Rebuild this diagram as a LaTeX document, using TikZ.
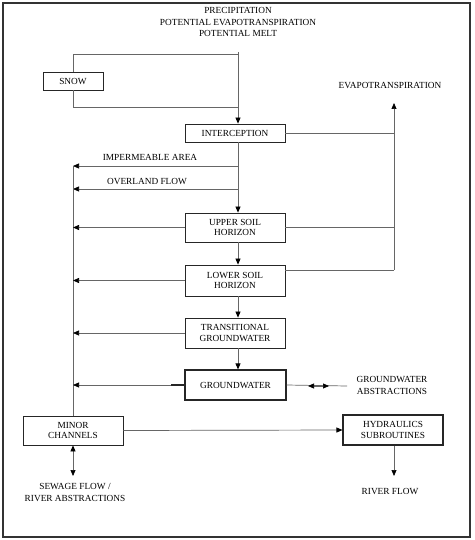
\documentclass[tikz,border=0pt]{standalone}
\usepackage{fontspec}
\setmainfont{Liberation Serif}
\usetikzlibrary{arrows.meta}
\begin{document}
\begin{tikzpicture}[x=1pt,y=-1pt,
  box/.style={draw=black!85,line width=0.8pt,minimum width=100pt,inner sep=0pt,align=center,font=\fontsize{9.3}{10.5}\selectfont},
  lbl/.style={align=center,inner sep=0pt,font=\fontsize{9.3}{11.5}\selectfont},
  conn/.style={draw=black!60,line width=0.7pt},
  tip/.style={Triangle[length=6pt,width=5pt,fill=black,color=black]},
  arr/.style={conn,-{Triangle[length=6pt,width=5pt,fill=black,color=black]}},
  darr/.style={conn,{Triangle[length=6pt,width=5pt,fill=black,color=black]}-{Triangle[length=6pt,width=5pt,fill=black,color=black]}}]
\useasboundingbox (0,0) rectangle (474,540);
\draw[line width=1.4pt,black!80] (3,3) rectangle (470,537);

% text
\node[lbl] (top) at (238,22) {PRECIPITATION\\POTENTIAL EVAPOTRANSPIRATION\\POTENTIAL MELT};
\node[lbl] (evap) at (390,85) {EVAPOTRANSPIRATION};
\node[lbl] (gwa) at (392,385.5) {GROUNDWATER\\ABSTRACTIONS};
\node[lbl] (sew) at (75,492.5) {SEWAGE FLOW /\\RIVER ABSTRACTIONS};
\node[lbl] (river) at (390,491) {RIVER FLOW};
\node[lbl] (imp) at (150,157) {IMPERMEABLE AREA};
\node[lbl] (ovl) at (147,181) {OVERLAND FLOW};

% boxes
\node[box,minimum width=60pt,minimum height=18pt] (snow) at (73,81) {SNOW};
\node[box,minimum height=18pt] (int) at (235,133) {INTERCEPTION};
\node[box,minimum height=29pt] (usoil) at (235,227.5) {UPPER SOIL\\HORIZON};
\node[box,minimum height=31pt] (lsoil) at (235,280.5) {LOWER SOIL\\HORIZON};
\node[box,minimum height=30pt] (trans) at (235,333) {TRANSITIONAL\\GROUNDWATER};
\node[box,line width=1.2pt,minimum width=101pt,minimum height=30pt] (gw) at (235.5,385) {GROUNDWATER};
\node[box,minimum height=29pt] (minor) at (73,430.5) {MINOR\\CHANNELS};
\node[box,line width=1.1pt,minimum height=30pt] (hyd) at (393,430) {HYDRAULICS\\SUBROUTINES};

% coordinates
\coordinate (t0) at (238,52);
\coordinate (s1) at (238,54);
\coordinate (s2) at (238,107);
\coordinate (evt) at (394,103);
\coordinate (l1) at (73,166);
\coordinate (l2) at (73,189);
\coordinate (ga) at (347,386);
\coordinate (rf) at (394,476);
\coordinate (sw) at (73,476);

% main stem
\draw[arr] (t0) -- (int.north -| t0);
\draw[conn] (s1) -| (snow.north);
\draw[conn] (snow.south) |- (s2);

% evapotranspiration
\draw[conn] (int.east) -- (int.east -| evt);
\draw[arr] (evt |- 0,270) -- (evt);
\draw[conn] (usoil.east) -- (usoil.east -| evt);
\draw[conn] (lsoil.east |- 0,270) -- (evt |- 0,270);

% down arrows
\draw[arr] (int.south -| t0) -- (usoil.north -| t0);
\draw[arr] (usoil.south -| t0) -- (lsoil.north -| t0);
\draw[arr] (lsoil.south -| t0) -- (trans.north -| t0);
\draw[arr] (trans.south -| t0) -- (gw.north -| t0);

% left flows
\draw[arr] (t0 |- l1) -- (l1);
\draw[arr] (t0 |- l2) -- (l2);
\draw[conn] (l1) -- (minor.north);
\draw[arr] (usoil.west) -- (usoil.west -| l1);
\draw[arr] (lsoil.west) -- (lsoil.west -| l1);
\draw[arr] (trans.west) -- (trans.west -| l1);
\draw[arr] (gw.west) -- (gw.west -| l1);
\draw[line width=1.1pt,black!85] (gw.west) -- ++(-13,0);

% groundwater abstractions
\draw[conn] (gw.east) -- (ga);
\draw[darr] (308,386) -- (329,386);

% bottom
\draw[arr] (minor.east) -- (hyd.west);
\draw[arr] (hyd.south -| evt) -- (rf);
\draw[darr] (minor.south) -- (sw);
\end{tikzpicture}
\end{document}
